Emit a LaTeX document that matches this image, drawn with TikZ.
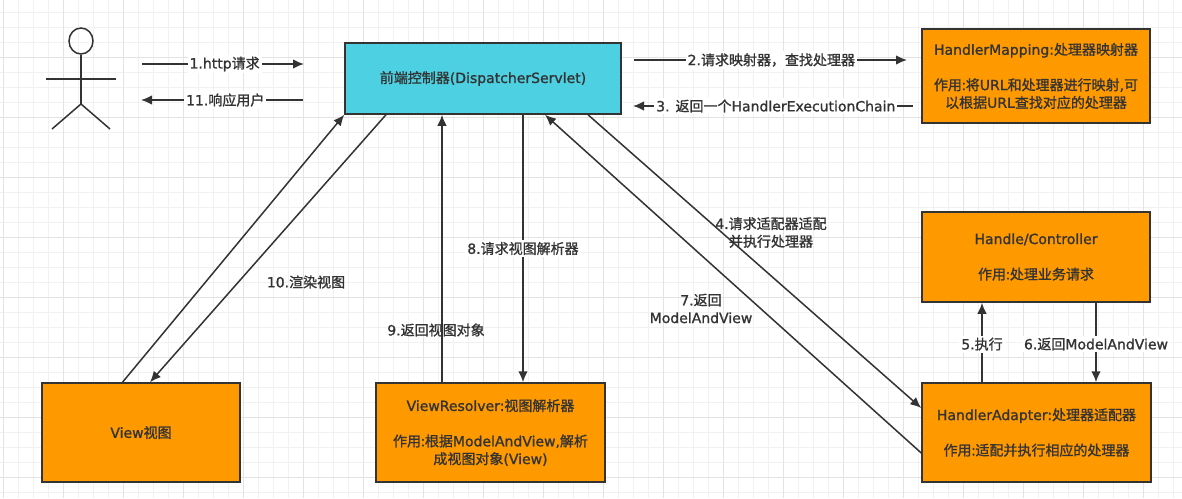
\documentclass[tikz,border=0pt]{standalone}
\usepackage{fontspec}
\setmainfont[FakeBold=1.2]{DejaVu Sans}
\newfontfamily\zh[FakeBold=1.2]{Noto Sans CJK SC}
\usepackage{xcolor}
\usepackage{tikz}
\usetikzlibrary{arrows.meta, shapes.geometric}
\definecolor{ink}{HTML}{333333}
\definecolor{cyanbox}{HTML}{4DD0E1}
\definecolor{orangebox}{HTML}{FF9900}
\definecolor{gridminor}{HTML}{F1F1F1}
\definecolor{gridmajor}{HTML}{E3E3E3}
\tikzset{
  every node/.style={inner sep=0pt, text=ink, font=\fontsize{14}{17.7}\selectfont, align=center},
  compbox/.style={rectangle, line width=1.5pt, draw=ink, fill=orangebox, minimum width=#1},
  compbox/.default=228pt,
  flow/.style={line width=1.5pt, -{Latex[length=11pt, width=9.5pt]}, color=ink},
  limb/.style={line width=1.5pt, color=ink},
  tag/.style={fill=white, inner sep=2pt}
}
\begin{document}
\begin{tikzpicture}
\useasboundingbox (0pt, 0pt) rectangle (1182pt, -498pt);
\fill [white] (0pt, 0pt) rectangle (1182pt, -498pt);
\foreach \gx in {0,...,78} {\draw [gridminor, line width=0.8pt] ({(3+15*\gx)*1pt}, 0pt) -- ({(3+15*\gx)*1pt}, -498pt);}
\foreach \gy in {0,...,32} {\draw [gridminor, line width=0.8pt] (0pt, {-(12+15*\gy)*1pt}) -- (1182pt, {-(12+15*\gy)*1pt});}
\foreach \gx in {0,...,19} {\draw [gridmajor, line width=0.8pt] ({(3+60*\gx)*1pt}, 0pt) -- ({(3+60*\gx)*1pt}, -498pt);}
\foreach \gy in {0,...,7} {\draw [gridmajor, line width=0.8pt] (0pt, {-(57+60*\gy)*1pt}) -- (1182pt, {-(57+60*\gy)*1pt});}
\node (head) [ellipse, minimum width=24pt, minimum height=26pt, line width=1.5pt, draw=ink] at (81pt, -41pt) {};
\coordinate (hip) at (81pt, -104pt);
\coordinate (armL) at (46pt, -79pt);
\coordinate (armR) at (116pt, -79pt);
\coordinate (footL) at (52pt, -129pt);
\coordinate (footR) at (110pt, -129pt);
\draw [limb] (head) -- (hip);
\draw [limb] (armL) -- (armR);
\draw [limb] (footL) -- (hip) -- (footR);
\node (front) [rectangle, minimum width=276pt, minimum height=71pt, line width=1.5pt, draw=ink, fill=cyanbox] at (483pt, -78.5pt) {{\zh 前端控制器}(DispatcherServlet)};
\node (mapping) [compbox, minimum height=94pt] at (1036pt, -76pt) {HandlerMapping:{\zh 处理器映射器}\\[17.7pt]{\zh 作用:将}URL{\zh 和处理器进行映射},{\zh 可}\\{\zh 以根据}URL{\zh 查找对应的处理器}};
\node (handler) [compbox, minimum height=90pt] at (1036pt, -257pt) {Handle/Controller\\[17.7pt]{\zh 作用:处理业务请求}};
\node (adapter) [compbox=229pt, minimum height=99pt] at (1036.5pt, -432.5pt) {HandlerAdapter:{\zh 处理器适配器}\\[17.7pt]{\zh 作用:适配并执行相应的处理器}};
\node (view) [compbox=198pt, minimum height=99pt] at (141pt, -432.5pt) {View{\zh 视图}};
\node (resolver) [compbox=229pt, minimum height=99pt] at (490.5pt, -432.5pt) {ViewResolver:{\zh 视图解析器}\\[17.7pt]{\zh 作用:根据}ModelAndView,{\zh 解析}\\{\zh 成视图对象}(View)};
\coordinate (a1) at (142pt, -64pt);
\coordinate (b1) at (304pt, -64pt);
\coordinate (a11) at (303pt, -100pt);
\coordinate (b11) at (141pt, -100pt);
\coordinate (a2) at (634pt, -60pt);
\coordinate (b2) at (907pt, -60pt);
\coordinate (a3) at (913pt, -106pt);
\coordinate (b3) at (633pt, -106pt);
\draw [flow] (a1) -- node [tag, pos=0.51] {1.http{\zh 请求}} (b1);
\draw [flow] (a11) -- node [tag, pos=0.48] {11.{\zh 响应用户}} (b11);
\draw [flow] (a2) -- node [tag, pos=0.503] {2.{\zh 请求映射器，查找处理器}} (b2);
\draw [flow] (a3) -- node [tag, pos=0.49] {3. {\zh 返回一个}HandlerExecutionChain} (b3);
\draw [flow] ([xshift=-54.5pt]adapter.north) -- node [tag, pos=0.48] {5.{\zh 执行}} ([xshift=-54pt]handler.south);
\draw [flow] ([xshift=60pt]handler.south) -- node [tag, pos=0.52] {6.{\zh 返回}ModelAndView} ([xshift=59.5pt]adapter.north);
\draw [flow] ([xshift=105pt]front.south) -- ([yshift=24.5pt]adapter.west);
\draw [flow] ([yshift=-20.5pt]adapter.west) -- ([xshift=62pt]front.south);
\draw [flow] ([xshift=40pt]front.south) -- node [tag, pos=0.5] {8.{\zh 请求视图解析器}} ([xshift=32.5pt]resolver.north);
\draw [flow] ([xshift=-48.5pt]resolver.north) -- ([xshift=-41pt]front.south);
\draw [flow] ([xshift=-18.5pt]view.north) -- (front.south west);
\draw [flow] ([xshift=-97pt]front.south) -- ([xshift=9pt]view.north);
\node (lab4) at (771pt, -232.5pt) {4.{\zh 请求适配器适配}\\{\zh 并执行处理器}};
\node (lab7) at (701pt, -308.5pt) {7.{\zh 返回}\\ModelAndView};
\node (lab9) at (436pt, -330pt) {9.{\zh 返回视图对象}};
\node (lab10) at (306pt, -282pt) {10.{\zh 渲染视图}};
\end{tikzpicture}
\end{document}
